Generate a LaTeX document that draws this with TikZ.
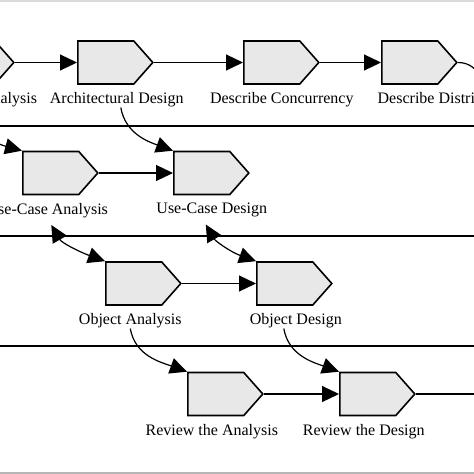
\documentclass[tikz,border=0pt]{standalone}
\usepackage{fontspec}
\setmainfont{Liberation Serif}
\usetikzlibrary{arrows.meta,positioning,shapes.symbols}
\definecolor{boxgray}{RGB}{232,232,232}
\definecolor{bargray}{RGB}{182,182,182}

\begin{document}
\begin{tikzpicture}[
    x = 1pt, y = -1pt, % pixel grid, top left is origin
    > = {Triangle[length=17pt,width=16pt]}, % arrow head style
    line width = 1.2pt
    ]
\tikzset{activity/.style={
    signal, signal to = east, signal pointer angle = 97,
    draw = black, line width = 1.6pt, fill = boxgray,
    minimum width = 75pt, minimum height = 43pt,
    inner sep = 0pt, anchor = west
    },
  actlabel/.style={font=\fontsize{16}{18}\selectfont, inner sep=0pt},
  lane/.style={line width=1.6pt}
}
    \useasboundingbox (0,0) rectangle (474,474);
    \clip (0,0) rectangle (474,474);
    \fill[white] (0,0) rectangle (474,474);
    \fill[black!14] (0,0) rectangle (474,2);
    \fill[bargray] (0,471.5) rectangle (474,474);

    % swim lanes
    \foreach \y in {126,236,346}
        \draw[lane] (-5,\y) -- (480,\y);

    % activities
    \node[activity] (aa) at (-62,62.5) {};
    \node[activity] (ad) at (77,62.5) {};
    \node[activity] (dc) at (243,62.5) {};
    \node[activity] (dd) at (381,62.5) {};
    \node[activity] (uca) at (22,173) {};
    \node[activity] (ucd) at (173,173) {};
    \node[activity] (oa) at (105,283.5) {};
    \node[activity] (od) at (256,283.5) {};
    \node[activity] (ra) at (187,394) {};
    \node[activity] (rd) at (339,394) {};

    \node[actlabel, below=7pt of aa, xshift=-2pt] (aal) {Architectural Analysis};
    \node[actlabel, below=7pt of ad, xshift=11pt] (adl) {Architectural Design};
    \node[actlabel, below=7pt of dc, xshift=10pt] (dcl) {Describe Concurrency};
    \node[actlabel, below=7pt of dd, xshift=37pt] (ddl) {Describe Distribution};
    \node[actlabel, below=7pt of uca, xshift=-3.5pt] (ucal) {Use-Case Analysis};
    \node[actlabel, below=7pt of ucd, xshift=10pt] (ucdl) {Use-Case Design};
    \node[actlabel, below=7pt of oa, xshift=-3.5pt] (oal) {Object Analysis};
    \node[actlabel, below=7pt of od, xshift=11pt] (odl) {Object Design};
    \node[actlabel, below=7pt of ra, xshift=-4pt] (ral) {Review the Analysis};
    \node[actlabel, below=7pt of rd, xshift=-4pt] (rdl) {Review the Design};

    \coordinate (ddout) at (495,110);
    \coordinate (ucain) at (-30,138);
    \coordinate (rdout) at (495,394);

    % flow
    \draw[->] (aa.east) -- (ad.west);
    \draw[->] (ad.east) -- (dc.west);
    \draw[->] (dc.east) -- (dd.west);
    \draw (dd.east) to[out=0, in=115] (ddout);

    \draw[->] (ucain) to[out=-5, in=165] (uca.west |- uca.north);
    \draw[->] (uca.east) -- (ucd.west);
    \draw[->] ([xshift=4pt]adl.south) to[out=-80, in=160] (ucd.west |- ucd.north);

    \draw[<->, shorten <= 8pt] (ucal.south) to[out=-60, in=160] (oa.west |- oa.north);
    \draw[<->, shorten <= 8pt] ([xshift=-10pt]ucdl.south) to[out=-60, in=160] (od.west |- od.north);
    \draw[->] (oa.east) -- (od.west);

    \draw[->] (oal.south) to[out=-80, in=160] (ra.west |- ra.north);
    \draw[->] ([xshift=-12pt]odl.south) to[out=-80, in=160] (rd.west |- rd.north);
    \draw[->] (ra.east) -- (rd.west);
    \draw (rd.east) -- (rdout);
\end{tikzpicture}
\end{document}
